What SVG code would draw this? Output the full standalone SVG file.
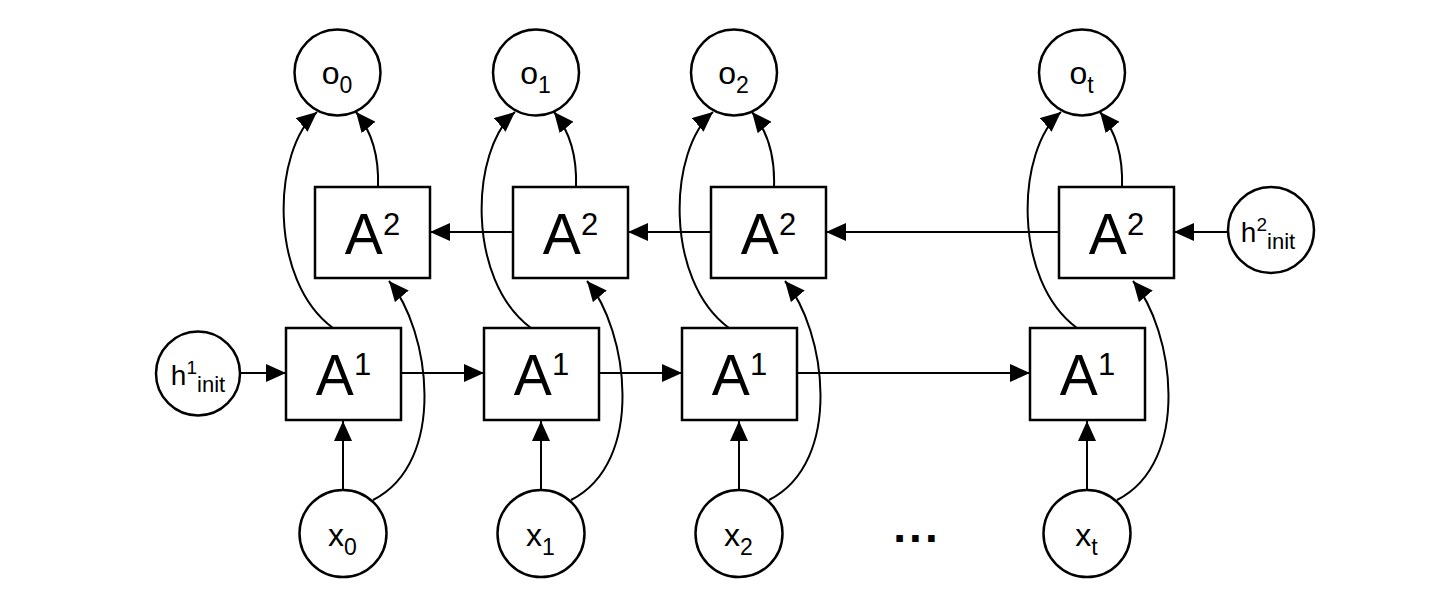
<svg xmlns="http://www.w3.org/2000/svg" width="1440" height="608" viewBox="0 0 1440 608">
<style>
.box{fill:#fff;stroke:#000;stroke-width:2.5}
.node{fill:#fff;stroke:#000;stroke-width:2.5}
.edge{fill:none;stroke:#000;stroke-width:2}
.t{font-family:"Liberation Sans",Arial,sans-serif;fill:#000;text-anchor:middle}
.big{font-size:57px}
.sup{font-size:31px}
.lbl{font-size:32px}
.sub{font-size:23px}
.h{font-size:28px}
.hs{font-size:19px}
.hi{font-size:22px}
</style>
<defs>
<marker id="ah" markerUnits="userSpaceOnUse" markerWidth="20" markerHeight="18" refX="20" refY="9" orient="auto">
<path d="M0,0 L20,9 L0,18 z" fill="#000"/>
</marker>
</defs>
<rect width="1440" height="608" fill="#fff"/>

<g id="connectors" class="edge" marker-end="url(#ah)">
<path d="M240,373 L286,373"/>
<path d="M1228,232 L1174,232"/>
<path d="M401,373 L484,373"/>
<path d="M599,373 L682,373"/>
<path d="M797,373 L1030,373"/>
<path d="M513,232 L430,232"/>
<path d="M711,232 L628,232"/>
<path d="M1059,232 L826,232"/>
<path d="M343,490 L343,421"/>
<path d="M541,490 L541,421"/>
<path d="M739,490 L739,421"/>
<path d="M1087,490 L1087,421"/>
<path d="M333,328 C268,280 272,150 317,112"/>
<path d="M531,328 C466,280 470,150 515,112"/>
<path d="M729,328 C664,280 668,150 713,112"/>
<path d="M1077,328 C1012,280 1016,150 1061,112"/>
<path d="M378,187 C379,160 374,134 356,112"/>
<path d="M576,187 C577,160 572,134 554,112"/>
<path d="M774,187 C775,160 770,134 752,112"/>
<path d="M1122,187 C1123,160 1118,134 1100,112"/>
<path d="M373,500 C448,462 430,330 389,281"/>
<path d="M571,500 C646,462 628,330 587,281"/>
<path d="M769,500 C844,462 826,330 785,281"/>
<path d="M1117,500 C1192,462 1174,330 1133,281"/>
</g>

<g id="h1_init"><circle class="node" cx="198" cy="373.5" r="42"/><text class="t" x="198" y="385"><tspan class="h">h</tspan><tspan class="hs" dy="-11">1</tspan><tspan class="hi" dy="18">init</tspan></text></g>
<g id="h2_init"><circle class="node" cx="1271" cy="230" r="43"/><text class="t" x="1268" y="242"><tspan class="h">h</tspan><tspan class="hs" dy="-11">2</tspan><tspan class="hi" dy="18">init</tspan></text></g>

<g id="A1_0"><rect class="box" x="286" y="328" width="115" height="92"/><text class="t" x="343.5" y="395"><tspan class="big">A</tspan><tspan class="sup" dy="-20">1</tspan></text></g>
<g id="A1_1"><rect class="box" x="484" y="328" width="115" height="92"/><text class="t" x="541.5" y="395"><tspan class="big">A</tspan><tspan class="sup" dy="-20">1</tspan></text></g>
<g id="A1_2"><rect class="box" x="682" y="328" width="115" height="92"/><text class="t" x="739.5" y="395"><tspan class="big">A</tspan><tspan class="sup" dy="-20">1</tspan></text></g>
<g id="A1_t"><rect class="box" x="1030" y="328" width="115" height="92"/><text class="t" x="1087.5" y="395"><tspan class="big">A</tspan><tspan class="sup" dy="-20">1</tspan></text></g>

<g id="A2_0"><rect class="box" x="315" y="187" width="115" height="91"/><text class="t" x="372.5" y="254"><tspan class="big">A</tspan><tspan class="sup" dy="-19">2</tspan></text></g>
<g id="A2_1"><rect class="box" x="513" y="187" width="115" height="91"/><text class="t" x="570.5" y="254"><tspan class="big">A</tspan><tspan class="sup" dy="-19">2</tspan></text></g>
<g id="A2_2"><rect class="box" x="711" y="187" width="115" height="91"/><text class="t" x="768.5" y="254"><tspan class="big">A</tspan><tspan class="sup" dy="-19">2</tspan></text></g>
<g id="A2_t"><rect class="box" x="1059" y="187" width="115" height="91"/><text class="t" x="1116.5" y="254"><tspan class="big">A</tspan><tspan class="sup" dy="-19">2</tspan></text></g>

<g id="o_0"><circle class="node" cx="337.5" cy="72.5" r="43"/><text class="t" x="337" y="84"><tspan class="lbl">o</tspan><tspan class="sub" dy="9">0</tspan></text></g>
<g id="o_1"><circle class="node" cx="536" cy="72.5" r="43"/><text class="t" x="535.5" y="84"><tspan class="lbl">o</tspan><tspan class="sub" dy="9">1</tspan></text></g>
<g id="o_2"><circle class="node" cx="734" cy="72.5" r="43"/><text class="t" x="733.5" y="84"><tspan class="lbl">o</tspan><tspan class="sub" dy="9">2</tspan></text></g>
<g id="o_t"><circle class="node" cx="1082" cy="72.5" r="43"/><text class="t" x="1081.5" y="84"><tspan class="lbl">o</tspan><tspan class="sub" dy="9">t</tspan></text></g>

<g id="x_0"><circle class="node" cx="343" cy="533.5" r="43.5"/><text class="t" x="342.5" y="546"><tspan class="lbl">x</tspan><tspan class="sub" dy="9">0</tspan></text></g>
<g id="x_1"><circle class="node" cx="541" cy="533.5" r="43.5"/><text class="t" x="540.5" y="546"><tspan class="lbl">x</tspan><tspan class="sub" dy="9">1</tspan></text></g>
<g id="x_2"><circle class="node" cx="739" cy="533.5" r="43.5"/><text class="t" x="738.5" y="546"><tspan class="lbl">x</tspan><tspan class="sub" dy="9">2</tspan></text></g>
<g id="x_t"><circle class="node" cx="1087" cy="533.5" r="43.5"/><text class="t" x="1086.5" y="546"><tspan class="lbl">x</tspan><tspan class="sub" dy="9">t</tspan></text></g>

<g id="ellipsis"><text class="t" x="917" y="542" style="font-size:46px;font-weight:bold;letter-spacing:3px">...</text></g>
</svg>
